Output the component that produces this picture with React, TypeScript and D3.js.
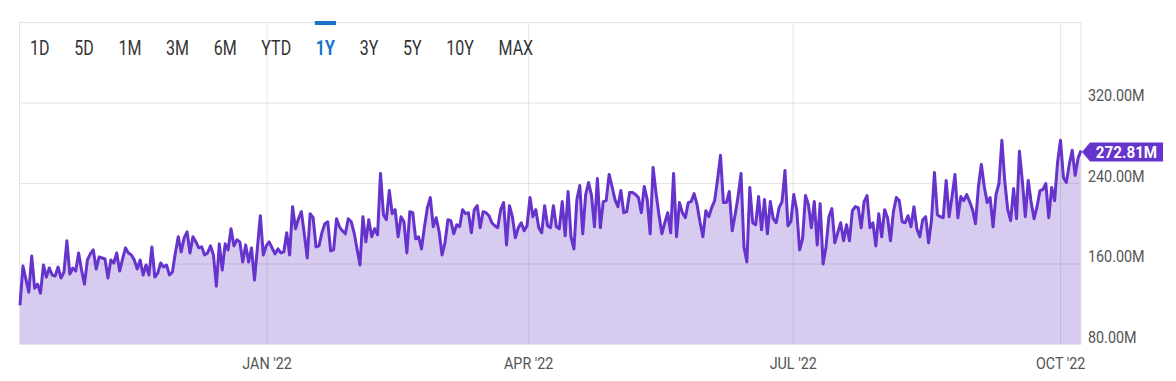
import React, { useMemo } from "react";
import * as d3 from "d3";

const rangeButtons = ["1D", "5D", "1M", "3M", "6M", "YTD", "1Y", "3Y", "5Y", "10Y", "MAX"];
const activeRange = "1Y";
const startDate = new Date(2021, 9, 8);
const endDate = new Date(2022, 9, 8);
const yTicks = [80, 160, 240, 320];
const yDomain = [80, 400];
const xTickDates = [new Date(2022, 0, 1), new Date(2022, 3, 1), new Date(2022, 6, 1), new Date(2022, 9, 1)];
const xTickLabels = ["JAN '22", "APR '22", "JUL '22", "OCT '22"];
const lastValue = 272.81;

// values in millions
const values = [
  119,158,145,132,168,136,140,131,159,147,156,149,148,157,146,152,183,150,156,153,171,154,140,164,170,174,155,167,166,165,146,164,161,171,153,165,176,171,169,164,
  155,164,149,159,149,177,147,151,161,157,159,149,152,171,187,172,186,192,171,187,182,176,177,169,171,178,169,138,180,154,180,174,195,178,184,182,162,179,162,176,144,
  176,208,169,178,182,176,170,175,171,172,191,169,217,195,205,212,190,166,210,206,177,178,191,200,202,173,174,205,197,193,190,205,202,191,175,159,207,182,204,187,
  195,189,250,209,204,233,210,214,187,207,202,171,212,211,185,187,175,197,216,226,197,206,192,169,181,204,203,190,199,197,214,210,211,191,214,218,196,212,211,208,201,
  198,196,214,221,179,218,207,186,196,201,193,198,226,207,214,196,191,218,198,196,218,197,195,222,188,232,187,175,224,238,190,229,241,228,197,245,196,222,223,249,237,224,
  217,233,211,212,231,231,229,226,211,237,224,190,256,231,209,190,201,211,191,250,187,221,211,206,221,222,230,219,202,187,213,207,216,223,244,268,221,221,232,193,209,
  227,250,177,162,236,201,199,227,194,224,190,222,205,201,216,222,253,198,202,229,214,174,185,228,219,196,222,179,220,160,177,207,215,181,191,201,183,199,183,213,217,216,
  196,222,228,196,201,178,210,187,214,206,183,212,226,223,202,201,208,197,217,195,187,204,207,181,204,251,209,207,206,243,207,227,249,206,227,223,229,222,214,200,237,259,
  237,221,226,197,229,240,283,242,214,203,235,205,272,242,207,243,221,205,217,233,234,240,206,236,223,261,283,246,241,259,273,248,265,lastValue,
];

const W = 1176;
const H = 381;
const M = { left: 19.5, right: 1081, top: 22.5, bottom: 344.5 };
const LINE = "#6633cc";
const FILL = "#d7ccf0";
const FONT = "Roboto, sans-serif";

function SText({ x, y, sx = 0.87, children, ...rest }: any) {
  return (
    <text transform={`translate(${x},${y}) scale(${sx},1)`} fontFamily={FONT} {...rest}>
      {children}
    </text>
  );
}

export default function App() {
  const x = d3.scaleTime().domain([startDate, endDate]).range([20, M.right]);
  const y = d3.scaleLinear().domain(yDomain).range([M.bottom, M.top]);
  const idxToTime = d3
    .scaleLinear()
    .domain([0, values.length - 1])
    .range([startDate.getTime(), endDate.getTime()]);
  const data = values.map((v, i) => ({ date: new Date(idxToTime(i)), v }));

  const area = d3
    .area<any>()
    .x((d) => x(d.date))
    .y0(y(yDomain[0]))
    .y1((d) => y(d.v));
  const line = d3
    .line<any>()
    .x((d) => x(d.date))
    .y((d) => y(d.v));

  const btnFontSize = 20;
  const btnScale = 0.8;
  const btnLayout = useMemo(() => {
    const canvas = document.createElement("canvas");
    const ctx = canvas.getContext("2d")!;
    let cx = 30;
    return rangeButtons.map((b) => {
      ctx.font = `${b === activeRange ? "bold " : ""}${btnFontSize}px Roboto`;
      const w = ctx.measureText(b).width * btnScale;
      const item = { label: b, x: cx, w };
      cx += w + 24.7;
      return item;
    });
  }, []);

  const yLast = y(lastValue);
  const gridColor = "rgba(0,0,0,0.1)";

  return (
    <svg
      width={W}
      height={H}
      style={{ position: "fixed", left: 0, top: 0, background: "#fff" }}
    >
      <path d={area(data) || ""} fill={FILL} />

      {yTicks.map((t) => (
        <line key={"hg" + t} x1={M.left} x2={M.right} y1={y(t)} y2={y(t)} stroke={gridColor} />
      ))}
      {xTickDates.map((d, i) => (
        <line key={"vg" + i} x1={x(d)} x2={x(d)} y1={M.top} y2={M.bottom} stroke={gridColor} />
      ))}
      <line x1={M.left} x2={M.right} y1={M.top} y2={M.top} stroke="#e3e3e3" />
      <line x1={M.left} x2={M.left} y1={M.top} y2={M.bottom} stroke="#e3e3e3" />
      <line x1={M.right} x2={M.right} y1={M.top} y2={M.bottom} stroke="#e3e3e3" />
      <line x1={M.left} x2={M.right} y1={M.bottom} y2={M.bottom} stroke="#e3e3e3" />

      <path d={line(data) || ""} fill="none" stroke={LINE} strokeWidth={3} strokeLinejoin="round" />

      {btnLayout.map((b) => (
        <g key={b.label}>
          {b.label === activeRange && (
            <rect x={b.x - 1} y={21} width={b.w + 2} height={4} fill="#1a73c8" />
          )}
          <SText
            x={b.x}
            y={55}
            sx={btnScale}
            fontSize={btnFontSize}
            fill={b.label === activeRange ? "#1a73c8" : "#333"}
            fontWeight={b.label === activeRange ? 700 : 400}
          >
            {b.label}
          </SText>
        </g>
      ))}

      {yTicks.map((t) => (
        <SText key={"yl" + t} x={1088} y={y(t) - 2} fontSize={16.5} fill="#555">
          {`${d3.format(".2f")(t)}M`}
        </SText>
      ))}

      {xTickDates.map((d, i) => (
        <SText key={"xl" + i} x={x(d)} y={369} fontSize={16.5} fill="#555" textAnchor="middle">
          {xTickLabels[i]}
        </SText>
      ))}

      <polygon
        points={`${M.right + 1},${yLast + 1.5} ${1090},${yLast - 8} ${1163},${yLast - 8} ${1163},${yLast + 11} ${1090},${yLast + 11}`}
        fill={LINE}
      />
      <SText
        x={1126.5}
        y={yLast + 8}
        sx={0.95}
        fontSize={16}
        fontWeight={700}
        fill="#fff"
        textAnchor="middle"
      >
        {`${d3.format(".2f")(lastValue)}M`}
      </SText>
    </svg>
  );
}
